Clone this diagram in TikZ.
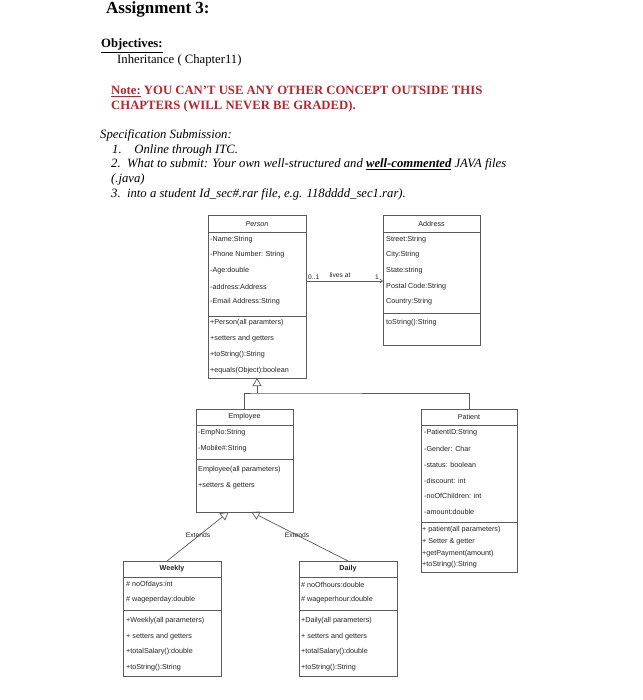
\documentclass[tikz,border=0pt]{standalone}
\usepackage{fontspec}
\setmainfont{Liberation Serif}
\newfontfamily\diagfont{Liberation Sans}
\usetikzlibrary{arrows.meta,calc}
\definecolor{notered}{RGB}{185,38,48}
\definecolor{linegray}{RGB}{90,90,90}
\definecolor{txtgray}{RGB}{35,35,35}
\begin{document}
\begin{tikzpicture}[x=1pt,y=-1pt,
  doc/.style={anchor=base west, inner sep=0pt, font=\fontsize{12.7}{14}\selectfont},
  umlbox/.style={draw=linegray, line width=0.7pt, outer sep=0pt, inner sep=0pt, anchor=north west},
  sep/.style={draw=linegray, line width=0.7pt},
  attr/.style={anchor=west, inner sep=0pt, text=txtgray, font=\diagfont\fontsize{7.2}{8}\selectfont},
  hdr/.style={anchor=center, inner sep=0pt, text=txtgray, font=\diagfont\fontsize{7.2}{8}\selectfont},
  conn/.style={draw=linegray, line width=0.7pt},
  ext/.style={conn, -{Triangle[open, length=8pt, width=9pt]}},
  lbl/.style={inner sep=0pt, text=txtgray, font=\diagfont\fontsize{6.7}{7}\selectfont}
]
\useasboundingbox (0,0) rectangle (642,700);
\fill[white] (0,0) rectangle (642,700);

% ---------- header text ----------
\node[doc, font=\bfseries\fontsize{17}{20}\selectfont] (title) at (106,14) {Assignment 3:};
\node[doc, font=\bfseries\fontsize{12.7}{14}\selectfont] (obj) at (101,48) {\underline{Objectives:}};
\node[doc] (inh) at (117,64) {Inheritance ( Chapter11)};
\node[doc, text=notered, font=\bfseries\fontsize{12.7}{14}\selectfont] (note1) at (111,95) {\underline{Note:} YOU CAN’T USE ANY OTHER CONCEPT OUTSIDE THIS};
\node[doc, text=notered, font=\bfseries\fontsize{12.7}{14}\selectfont] (note2) at (111,110) {CHAPTERS (WILL NEVER BE GRADED).};
\node[doc, font=\itshape\fontsize{12.7}{14}\selectfont] (spec) at (100,139) {Specification Submission:};
\node[doc, font=\itshape\fontsize{12.7}{14}\selectfont] (s1) at (112,154) {1.\quad Online through ITC.};
\node[doc, font=\itshape\fontsize{12.7}{14}\selectfont] (s2) at (111,168) {2.\ \ What to submit: Your own well-structured and \underline{\textbf{well-commented}} JAVA files};
\node[doc, font=\itshape\fontsize{12.7}{14}\selectfont] (s2b) at (111,183) {(.java)};
\node[doc, font=\itshape\fontsize{12.7}{14}\selectfont] (s3) at (111,198) {3.\ \ into a student Id\_sec\#.rar file, e.g. 118dddd\_sec1.rar).};

% ---------- Person ----------
\node[umlbox, minimum width=98pt, minimum height=163pt] (person) at (208,215) {};
\draw[sep] (208,232) -- (306,232);
\draw[sep] (208,316) -- (306,316);
\node[hdr, font=\diagfont\itshape\fontsize{7.2}{8}\selectfont] (personh) at (257,224) {Person};
\node[attr] (pa1) at (210,240) {-Name:String};
\node[attr] (pa2) at (210,255) {-Phone Number: String};
\node[attr] (pa3) at (210,271) {-Age:double};
\node[attr] (pa4) at (210,287) {-address:Address};
\node[attr] (pa5) at (210,302) {-Email Address:String};
\node[attr] (pm1) at (210,323) {+Person(all paramters)};
\node[attr] (pm2) at (210,339) {+setters and getters};
\node[attr] (pm3) at (210,355) {+toString():String};
\node[attr] (pm4) at (210,371) {+equals(Object):boolean};

% ---------- Address ----------
\node[umlbox, minimum width=97pt, minimum height=130pt] (address) at (383,215) {};
\draw[sep] (383,232) -- (480,232);
\draw[sep] (383,313) -- (480,313);
\node[hdr] (addressh) at (431.5,224) {Address};
\node[attr] (aa1) at (386,240) {Street:String};
\node[attr] (aa2) at (386,255) {City:String};
\node[attr] (aa3) at (386,271) {State:string};
\node[attr] (aa4) at (386,287) {Postal Code:String};
\node[attr] (aa5) at (386,302) {Country:String};
\node[attr] (am1) at (386,323) {toString():String};

% association
\coordinate (assocA) at ($(person.north east)+(0,66)$);
\coordinate (assocB) at ($(address.north west)+(0,66)$);
\draw[conn, -{Straight Barb[length=2.5pt, width=4pt]}] (assocA) -- (assocB);
\node[lbl, anchor=south west] (m1) at ($(assocA)+(2,-1)$) {0..1};
\node[lbl, anchor=south] (livesat) at (340,278) {lives at};
\node[lbl, anchor=south east] (m2) at ($(assocB)+(-4,-1)$) {1};

% ---------- Employee ----------
\node[umlbox, minimum width=97pt, minimum height=103pt] (employee) at (196,409) {};
\draw[sep] (196,425) -- (293,425);
\draw[sep] (196,459) -- (293,459);
\node[hdr] (employeeh) at (244.5,417) {Employee};
\node[attr] (ea1) at (198,433) {-EmpNo:String};
\node[attr] (ea2) at (198,449) {-Mobile\#:String};
\node[attr] (em1) at (198,470) {Employee(all parameters)};
\node[attr] (em2) at (198,486) {+setters \& getters};

% ---------- Patient ----------
\node[umlbox, minimum width=96pt, minimum height=163pt] (patient) at (421,409) {};
\draw[sep] (421,425) -- (517,425);
\draw[sep] (421,522) -- (517,522);
\node[hdr] (patienth) at (469,417) {Patient};
\node[attr] (ta1) at (424,433) {-PatientID:String};
\node[attr] (ta2) at (424,449) {-Gender: Char};
\node[attr] (ta3) at (424,465) {-status: boolean};
\node[attr] (ta4) at (424,481) {-discount: int};
\node[attr] (ta5) at (424,496) {-noOfChildren: int};
\node[attr] (ta6) at (424,512) {-amount:double};
\node[attr] (tm1) at (422,530) {+ patient(all parameters)};
\node[attr] (tm2) at (422,542) {+ Setter \& getter};
\node[attr] (tm3) at (422,554) {+getPayment(amount)};
\node[attr] (tm4) at (422,565) {+toString():String};

% inheritance Person <- Employee, Patient
\coordinate (junction) at ($(person.south)+(0,15)$);
\draw[conn] (employee.north) |- (junction) -| (patient.north);
\draw[ext] (junction) -- (person.south);

% ---------- Weekly ----------
\node[umlbox, minimum width=98pt, minimum height=115pt] (weekly) at (123,561) {};
\draw[sep] (123,577) -- (221,577);
\draw[sep] (123,610) -- (221,610);
\node[hdr, font=\diagfont\bfseries\fontsize{7.2}{8}\selectfont] (weeklyh) at (172,569) {Weekly};
\node[attr] (wa1) at (126,585) {\# noOfdays:int};
\node[attr] (wa2) at (126,600) {\# wageperday:double};
\node[attr] (wm1) at (126,621) {+Weekly(all parameters)};
\node[attr] (wm2) at (126,637) {+ setters and getters};
\node[attr] (wm3) at (126,652) {+totalSalary():double};
\node[attr] (wm4) at (126,668) {+toString():String};

% ---------- Daily ----------
\node[umlbox, minimum width=98pt, minimum height=115pt] (daily) at (299,561) {};
\draw[sep] (299,577) -- (397,577);
\draw[sep] (299,610) -- (397,610);
\node[hdr, font=\diagfont\bfseries\fontsize{7.2}{8}\selectfont] (dailyh) at (348,569) {Daily};
\node[attr] (da1) at (301,585) {\# noOfhours:double};
\node[attr] (da2) at (301,600) {\# wageperhour:double};
\node[attr] (dm1) at (301,621) {+Daily(all parameters)};
\node[attr] (dm2) at (301,637) {+ setters and getters};
\node[attr] (dm3) at (301,652) {+totalSalary():double};
\node[attr] (dm4) at (301,668) {+toString():String};

% extends
\coordinate (extL) at ($(employee.south)+(-16,0)$);
\coordinate (extR) at ($(employee.south)+(7,0)$);
\draw[ext] ($(weekly.north)+(-5,0)$) -- (extL);
\draw[ext] (daily.north) -- (extR);
\node[lbl] (extlbl1) at (198,535) {Extends};
\node[lbl] (extlbl2) at (297,535) {Extends};
\end{tikzpicture}
\end{document}
